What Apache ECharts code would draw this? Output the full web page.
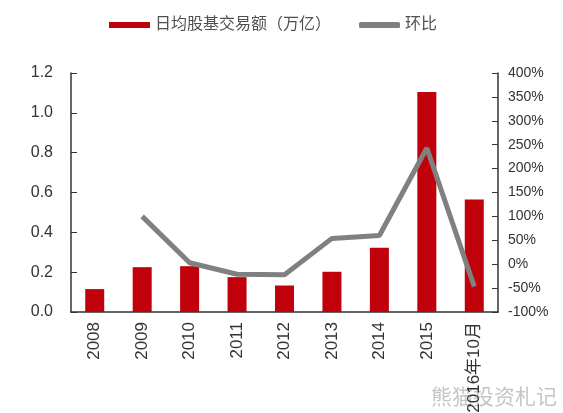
<!DOCTYPE html>
<html>
<head>
<meta charset="utf-8">
<script src="https://cdn.jsdelivr.net/npm/echarts@6/dist/echarts.min.js"></script>
<style>
  html, body { margin: 0; padding: 0; background: #fff; }
  #myChart { width: 563px; height: 413px; }
</style>
</head>
<body>
<div id="myChart"></div>
<script>
// 年份
const categories = ['2008', '2009', '2010', '2011', '2012', '2013', '2014', '2015', '2016年10月']
// 日均股基交易额（万亿）
const turnover = [0.115, 0.225, 0.23, 0.175, 0.133, 0.202, 0.322, 1.105, 0.565]
// 环比 (%)
const changePct = [null, 100, 3, -21, -22, 54, 60, 243, -47]

const font = '"Liberation Sans", Arial, "Noto Sans CJK SC", sans-serif'

const myChart = echarts.init(document.getElementById('myChart'))
myChart.setOption({
  animation: false,
  textStyle: { fontFamily: font },
  legend: {
    top: 12,
    left: 104,
    itemGap: 28,
    textStyle: { fontSize: 16, color: '#505050', fontFamily: font },
    data: [
      { name: '日均股基交易额（万亿）', icon: 'rect', itemStyle: { color: '#C0000B' } },
      { name: '环比', icon: 'roundRect', itemStyle: { color: '#808080' } }
    ],
    itemWidth: 41,
    itemHeight: 6
  },
  grid: {
    left: 71,
    right: 65,
    top: 73,
    bottom: 101,
    containLabel: false,
    outerBoundsMode: 'none'
  },
  xAxis: {
    type: 'category',
    data: categories,
    axisLine: { lineStyle: { color: '#333', width: 1.5 } },
    axisTick: { inside: true, length: 5, lineStyle: { color: '#333' } },
    axisLabel: {
      rotate: 90,
      fontSize: 17,
      color: '#333',
      margin: 10,
      interval: 0
    }
  },
  yAxis: [
    {
      type: 'value',
      min: 0,
      max: 1.2,
      interval: 0.2,
      splitLine: { show: false },
      axisLine: { show: true, lineStyle: { color: '#333', width: 1.5 } },
      axisTick: { show: true, inside: true, length: 6, lineStyle: { color: '#333' } },
      axisLabel: {
        fontSize: 16,
        color: '#333',
        margin: 18,
        formatter: v => v.toFixed(1)
      }
    },
    {
      type: 'value',
      min: -100,
      max: 400,
      interval: 50,
      splitLine: { show: false },
      axisLine: { show: true, lineStyle: { color: '#333', width: 1.5 } },
      axisTick: { show: true, inside: true, length: 6, lineStyle: { color: '#333' } },
      axisLabel: {
        fontSize: 14,
        color: '#333',
        margin: 10,
        formatter: v => v + '%'
      }
    }
  ],
  series: [
    {
      name: '日均股基交易额（万亿）',
      type: 'bar',
      data: turnover,
      barWidth: 19,
      itemStyle: { color: '#C0000B' }
    },
    {
      name: '环比',
      type: 'line',
      yAxisIndex: 1,
      data: changePct,
      symbol: 'none',
      lineStyle: { color: '#808080', width: 5 },
      itemStyle: { color: '#808080' }
    }
  ],
  graphic: [
    {
      type: 'text',
      right: 6,
      bottom: 6,
      style: {
        text: '熊猫投资札记',
        fontSize: 21,
        fontFamily: '"Noto Sans CJK SC", sans-serif',
        fill: 'rgba(150,150,150,0.55)'
      }
    }
  ]
})
</script>
</body>
</html>
